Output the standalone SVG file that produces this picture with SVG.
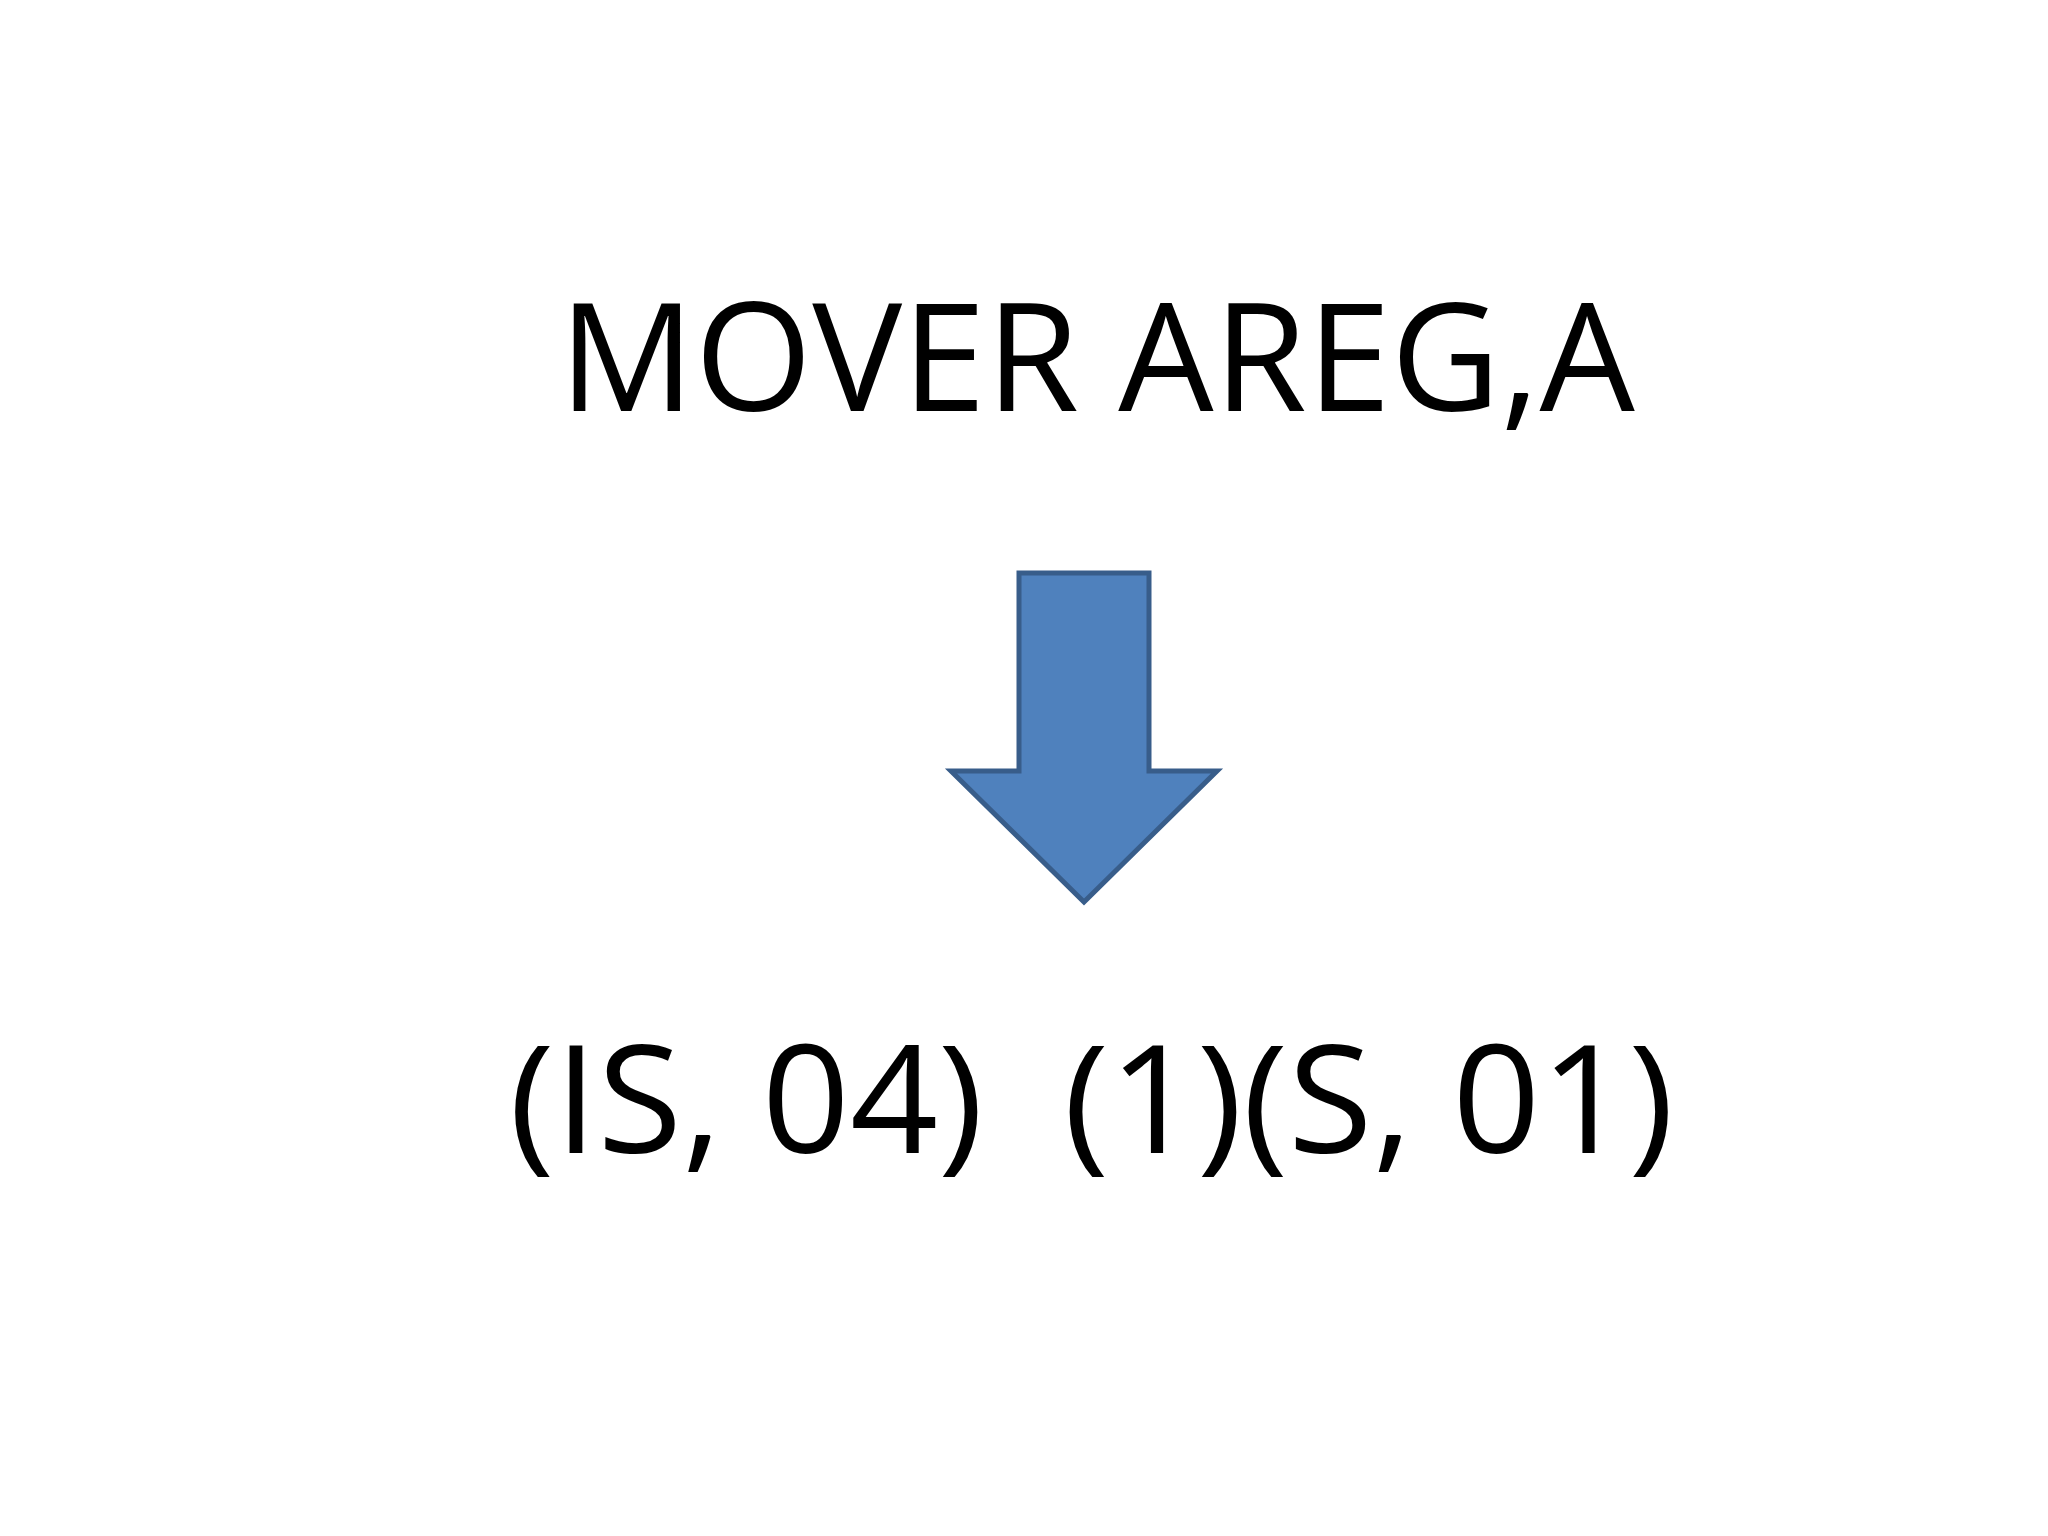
<svg xmlns="http://www.w3.org/2000/svg" width="2048" height="1536" viewBox="0 0 2048 1536">
<style>.t{font-family:"Open Sans","Liberation Sans",sans-serif;font-size:150px;fill:#000}</style>
<rect width="2048" height="1536" fill="#fff"/>
<g id="top"><text class="t" x="559" y="411" textLength="1076" lengthAdjust="spacingAndGlyphs">MOVER AREG,A</text></g>
<g id="arrow"><path d="M1019,573 H1149 V771 H1217 L1084,902 L951,771 H1019 Z" fill="#4f81bd" stroke="#385d8a" stroke-width="5"/></g>
<g id="bottom"><text class="t" x="509" y="1153" xml:space="preserve" textLength="1165" lengthAdjust="spacingAndGlyphs">(IS, 04)  (1)(S, 01)</text></g>
</svg>
